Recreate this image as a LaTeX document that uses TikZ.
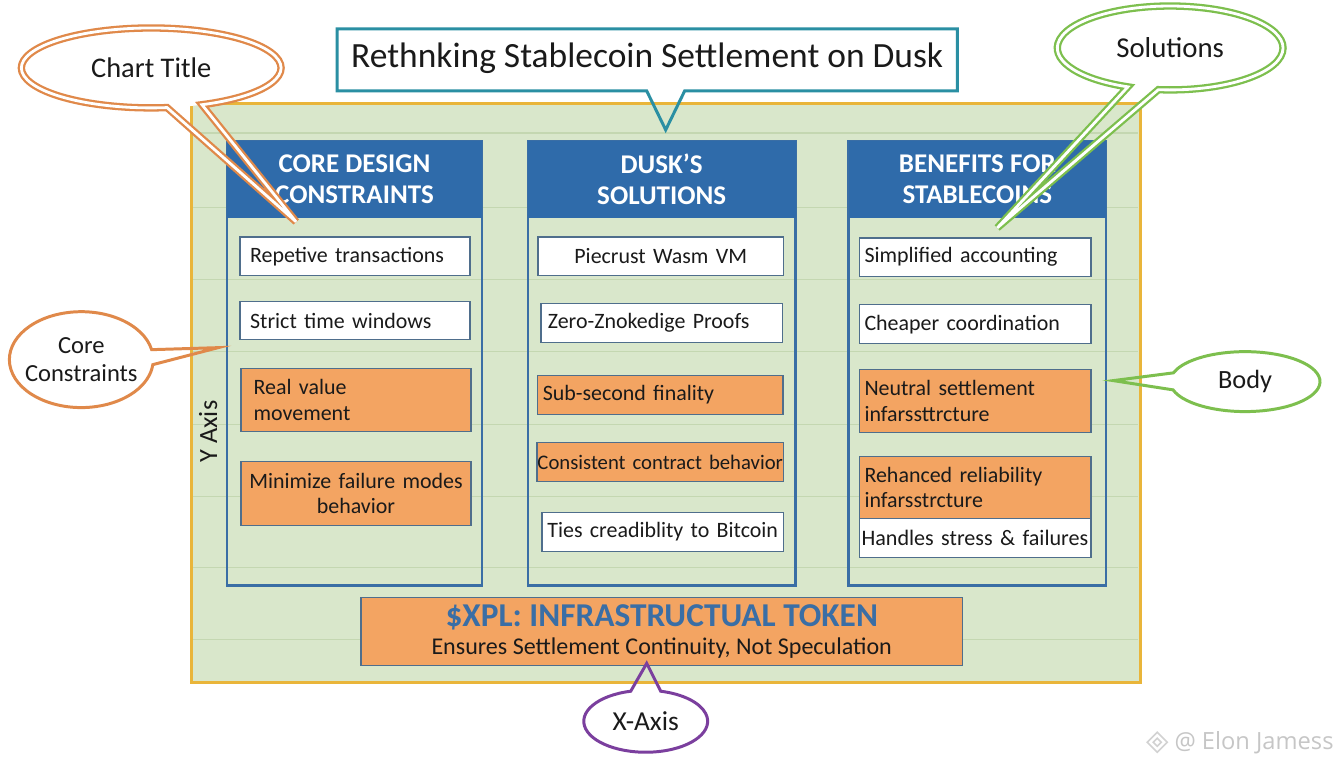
\documentclass[tikz,border=0pt]{standalone}
\usepackage{fontspec}
\setmainfont{Carlito}
\newfontfamily\wmfont{Open Sans}
\usetikzlibrary{calc}
\definecolor{chartgreen}{HTML}{D9E7CB}
\definecolor{gridgreen}{HTML}{C4D7B1}
\definecolor{goldline}{HTML}{E9B53A}
\definecolor{hdrblue}{HTML}{2F6BAA}
\definecolor{colblue}{HTML}{3A6EA5}
\definecolor{itemborder}{HTML}{4F6E8C}
\definecolor{itemorange}{HTML}{F3A462}
\definecolor{titleteal}{HTML}{2A8FA3}
\definecolor{calloutorange}{HTML}{E0894A}
\definecolor{calloutgreen}{HTML}{7DBF4E}
\definecolor{calloutpurple}{HTML}{7B3F9E}
\definecolor{tokenblue}{HTML}{3A6EA5}
\definecolor{inktext}{HTML}{1A1A1A}
\begin{document}
\begin{tikzpicture}[x=0.02cm,y=-0.02cm,
  wbox/.style={draw=itemborder, line width=0.85pt, fill=white, inner xsep=0.2cm, inner ysep=0pt,
    align=left, font=\fontsize{12.5}{14.5}\selectfont, text=inktext},
  obox/.style={wbox, fill=itemorange},
  hdr/.style={fill=hdrblue, text=white, font=\bfseries\fontsize{15.4}{17.6}\selectfont, align=center,
    inner sep=0pt, minimum height=1.54cm},
  colbox/.style={draw=colblue, line width=1.4pt, inner sep=0pt, minimum height=8.9cm},
  lbl/.style={font=\fontsize{15.5}{16.5}\selectfont, align=center, text=inktext},
  dblorange/.style={calloutorange, line width=1.3pt, double=white, double distance=1.6pt},
  dblgreen/.style={calloutgreen, line width=1.3pt, double=white, double distance=1.6pt},
  single/.style={line width=1.7pt, line join=miter},
]
% page
\path[fill=white] (0,0) rectangle (1344,768);

% chart area
\node[draw=goldline, line width=1.7pt, fill=chartgreen, minimum width=19cm, minimum height=11.58cm, inner sep=0pt] (chart) at (665,393.5) {};
\foreach \yy in {133,208,280,352,425,497,568,640}
  \draw[gridgreen, line width=0.8pt] (192,\yy) -- (1138,\yy);

\node[lbl, rotate=90, font=\fontsize{15}{17}\selectfont] (yaxis) at (207,432) {Y Axis};

% columns
\node[colbox, minimum width=5.1cm] (c1) at (353.5,363.5) {};
\node[colbox, minimum width=5.36cm] (c2) at (661,363.5) {};
\node[colbox, minimum width=5.16cm] (c3) at (977,363.5) {};
\node[hdr, minimum width=5.1cm] (h1) at (353.5,179.5) {CORE DESIGN\\CONSTRAINTS};
\node[hdr, minimum width=5.36cm] (h2) at (661,179.5) {DUSK’S\\SOLUTIONS};
\node[hdr, minimum width=5.16cm] (h3) at (977,179.5) {BENEFITS FOR\\STABLECOINS};

% column 1 items
\node[wbox, text width=4.2cm, minimum height=0.78cm] (r1) at (354,256.5) {Repetive transactions};
\node[wbox, text width=4.2cm, minimum height=0.76cm] (r2) at (354,321) {Strict time windows};
\node[obox, text width=4.1cm, inner xsep=0.25cm, minimum height=1.26cm] (r3) at (355,400.5) {Real value\\movement};
\node[obox, text width=4.5cm, inner xsep=0.05cm, align=center, minimum height=1.28cm] (r4) at (355,494) {Minimize failure modes\\behavior};

% column 2 items
\node[wbox, text width=4.52cm, align=center, minimum height=0.78cm] (s1) at (660,256.5) {Piecrust Wasm VM};
\node[wbox, text width=4.56cm, inner xsep=0.14cm, minimum height=0.78cm] (s2) at (661,323.5) {Zero-Znokedige Proofs};
\node[obox, text width=4.7cm, inner xsep=0.11cm, minimum height=0.78cm] (s3) at (659.5,395.5) {Sub-second finality};
\node[obox, text width=4.92cm, inner xsep=0.01cm, align=center, minimum height=0.78cm, font=\fontsize{11.8}{14}\selectfont] (s4) at (659.5,462.5) {Consistent contract behavior};
\node[wbox, text width=4.8cm, inner xsep=0.02cm, align=center, minimum height=0.78cm] (s5) at (662,532.5) {Ties creadiblity to Bitcoin};

% column 3 items
\node[wbox, text width=4.44cm, inner xsep=0.1cm, minimum height=0.78cm] (b1) at (975,257.5) {Simplified accounting};
\node[wbox, text width=4.44cm, inner xsep=0.1cm, minimum height=0.78cm] (b2) at (975,324.5) {Cheaper coordination};
\node[obox, text width=4.44cm, inner xsep=0.1cm, minimum height=1.26cm] (b3) at (975,401.5) {Neutral settlement\\infarssttrcture};
\node[obox, text width=4.44cm, inner xsep=0.1cm, minimum height=1.24cm] (b4) at (975,488) {Rehanced reliability\\infarsstrcture};
\node[wbox, text width=4.56cm, inner xsep=0.04cm, minimum height=0.78cm, font=\fontsize{12.6}{15}\selectfont] (b5) at (975,538.5) {\mbox{Handles stress \& failures}};

% token box
\node[draw=itemborder, line width=0.85pt, fill=itemorange, minimum width=12.04cm, minimum height=1.36cm,
  align=center, inner sep=0pt, text=inktext, font=\fontsize{13.7}{16}\selectfont] (token) at (661,632)
  {{\bfseries\color{tokenblue}\fontsize{19}{19}\selectfont \$XPL: INFRASTRUCTUAL TOKEN}\\[0pt]
   Ensures Settlement Continuity, Not Speculation};

% title callout
\coordinate (ttip) at (665,130);
\fill[white] (336,29) rectangle (957,91);
\draw[titleteal, single] (336,29) -- (957,29) -- (957,91) -- (684,91) -- (ttip) -- (646,91) -- (336,91) -- cycle;
\node[text=inktext, font=\fontsize{20.2}{22}\selectfont] (title) at (646.5,58) {Rethnking Stablecoin Settlement on Dusk};

% Chart Title callout
\coordinate (ctc) at (150,68);
\coordinate (cttip) at (295,222);
\fill[white] (ctc) ellipse[x radius=2.6cm, y radius=0.8cm];
\draw[dblorange] (ctc) ++(293:2.6cm and 0.8cm) arc[start angle=293, end angle=637, x radius=2.6cm, y radius=0.8cm] -- (cttip) -- cycle;
\node[lbl, font=\fontsize{16.2}{18}\selectfont] (ct) at (ctc) {Chart Title};

% Solutions callout
\coordinate (soc) at (1170,48);
\coordinate (sotip) at (997,228);
\fill[white] (soc) ellipse[x radius=2.26cm, y radius=0.84cm];
\draw[dblgreen] (soc) ++(264:2.26cm and 0.84cm) arc[start angle=264, end angle=608, x radius=2.26cm, y radius=0.84cm] -- (sotip) -- cycle;
\node[lbl, font=\fontsize{16.4}{18}\selectfont] (so) at (soc) {Solutions};

% Core Constraints callout
\coordinate (ccc) at (80,360);
\coordinate (cctip) at (217,348);
\fill[white] (ccc) ellipse[x radius=1.44cm, y radius=0.96cm];
\draw[calloutorange, single] (ccc) ++(12:1.44cm and 0.96cm) arc[start angle=12, end angle=354, x radius=1.44cm, y radius=0.96cm] -- (cctip) -- cycle;
\node[lbl, font=\fontsize{14}{16.4}\selectfont] (cc) at (ccc) {Core\\Constraints};

% Body callout
\coordinate (boc) at (1245,382);
\coordinate (botip) at (1113,381);
\fill[white] (boc) ellipse[x radius=1.5cm, y radius=0.6cm];
\draw[calloutgreen, single] (boc) ++(196:1.5cm and 0.6cm) arc[start angle=196, end angle=523, x radius=1.5cm, y radius=0.6cm] -- (botip) -- cycle;
\node[lbl, font=\fontsize{15}{17}\selectfont] (bo) at (boc) {Body};

% X-Axis callout
\coordinate (xac) at (645,722);
\coordinate (xatip) at (646,664);
\fill[white] (xac) ellipse[x radius=1.24cm, y radius=0.62cm];
\draw[calloutpurple, single] (xac) ++(104:1.24cm and 0.62cm) arc[start angle=104, end angle=436, x radius=1.24cm, y radius=0.62cm] -- (xatip) -- cycle;
\node[lbl, font=\fontsize{15.6}{17}\selectfont] (xa) at (xac) {X-Axis};

% watermark
\draw[gray!35, line width=0.9pt] (1157,733) -- (1167,743) -- (1157,753) -- (1147,743) -- cycle;
\draw[gray!35, line width=0.9pt] (1157,739) -- (1161,743) -- (1157,747) -- (1153,743) -- cycle;
\node[anchor=west, text=gray!45, font=\wmfont\fontsize{13.5}{15}\selectfont, inner sep=0pt] (wm) at (1174,743) {@ Elon Jamess};
\end{tikzpicture}
\end{document}
